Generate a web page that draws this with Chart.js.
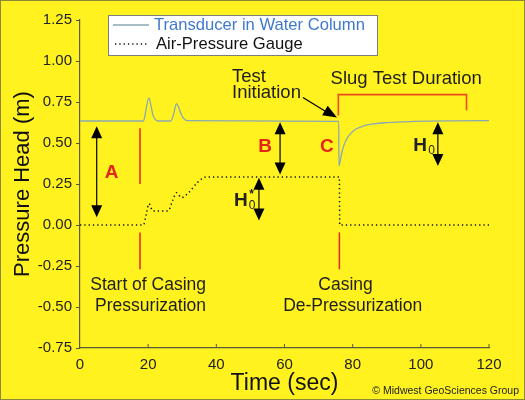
<!DOCTYPE html>
<html>
<head>
<meta charset="utf-8">
<script src="https://cdn.jsdelivr.net/npm/chart.js@4/dist/chart.umd.min.js"></script>
<style>
  html, body { margin: 0; padding: 0; background: #fff21f; }
  #wrap { position: relative; width: 525px; height: 400px; box-sizing: border-box; border: 1px solid #8c8a3a; }
</style>
</head>
<body>
<div id="wrap"><canvas id="chart" width="523" height="398"></canvas></div>
<script>
// Data

// transducer in water column (m)
var transducerTime = [0, 18.6, 19.0, 19.5, 20.2, 20.9, 21.4, 22.0, 22.8,
	26.6, 27.4, 27.9, 28.3, 28.9, 29.6, 30.4, 31.5,
	75.9, 76.0, 76.7, 77.5, 78.4, 79.5, 81, 83, 86, 90, 95, 102, 110, 120];
var transducerHead = [0.634, 0.634, 0.66, 0.72, 0.775, 0.72, 0.67, 0.645, 0.634,
	0.634, 0.67, 0.715, 0.74, 0.72, 0.68, 0.65, 0.636,
	0.632, 0.36, 0.43, 0.49, 0.53, 0.56, 0.585, 0.603, 0.616, 0.624, 0.629, 0.633, 0.635, 0.637];

// air-pressure gauge (m)
var gaugeTime = [0, 18.6, 19.5, 20.2, 21.4, 25.8, 27.2, 28.3, 29.8, 32, 34.5, 37.1, 76.1, 76.2, 120];
var gaugeHead = [0, 0, 0.07, 0.13, 0.085, 0.085, 0.15, 0.197, 0.167, 0.2, 0.26, 0.293, 0.293, 0, 0];

var xTicks = [0, 20, 40, 60, 80, 100, 120];
var yTicks = [-0.75, -0.5, -0.25, 0, 0.25, 0.5, 0.75, 1.0, 1.25];

function toPoints(xs, ys)
{
	var pts = [];
	for (let i = 0; i < xs.length; i++) {
		pts.push({x: xs[i], y: ys[i]});
	}
	return pts;
}

var FONT = "'Liberation Sans', Arial, sans-serif";
var RED = "#e4261a";
var ORANGE = "#ee4a1c";

// arrow helpers
function arrowHead(ctx, x1, y1, x2, y2, len, wid)
{
	var a = Math.atan2(y2 - y1, x2 - x1);
	ctx.beginPath();
	ctx.moveTo(x2, y2);
	ctx.lineTo(x2 - len * Math.cos(a) + wid / 2 * Math.sin(a), y2 - len * Math.sin(a) - wid / 2 * Math.cos(a));
	ctx.lineTo(x2 - len * Math.cos(a) - wid / 2 * Math.sin(a), y2 - len * Math.sin(a) + wid / 2 * Math.cos(a));
	ctx.closePath();
	ctx.fill();
}
function doubleArrow(ctx, x, yTop, yBot)
{
	ctx.strokeStyle = "#000";
	ctx.fillStyle = "#000";
	ctx.lineWidth = 1.2;
	ctx.beginPath();
	ctx.moveTo(x, yTop + 8);
	ctx.lineTo(x, yBot - 8);
	ctx.stroke();
	arrowHead(ctx, x, yBot, x, yTop, 12, 11);
	arrowHead(ctx, x, yTop, x, yBot, 12, 11);
}
function hLabel(ctx, x, y, star)
{
	ctx.fillStyle = "#222";
	ctx.textAlign = "center";
	ctx.textBaseline = "middle";
	ctx.font = "bold 19px " + FONT;
	ctx.fillText("H", x, y);
	ctx.font = "12px " + FONT;
	ctx.textAlign = "left";
	ctx.fillText("0", x + 8, y + 5);
	if (star) {
		ctx.font = "bold 12px " + FONT;
		ctx.fillText("*", x + 8.5, y - 6);
	}
}

var annotations = {
	id: "annotations",
	afterDatasetsDraw: function(chart) {
		var ctx = chart.ctx;
		var xs = chart.scales.x, ys = chart.scales.y;
		var px = function(t) { return xs.getPixelForValue(t); };
		var py = function(v) { return ys.getPixelForValue(v); };
		ctx.save();

		// inward x ticks
		ctx.strokeStyle = "#5a5a3a";
		ctx.lineWidth = 1;
		for (let i = 1; i < xTicks.length; i++) {
			ctx.beginPath();
			ctx.moveTo(px(xTicks[i]), py(-0.75));
			ctx.lineTo(px(xTicks[i]), py(-0.75) - 4);
			ctx.stroke();
		}

		// red markers
		ctx.strokeStyle = RED;
		ctx.lineWidth = 1.5;
		ctx.beginPath();
		ctx.moveTo(px(17.6), py(0.59)); ctx.lineTo(px(17.6), py(0.25));
		ctx.moveTo(px(17.6), py(-0.046)); ctx.lineTo(px(17.6), py(-0.27));
		ctx.moveTo(px(76.1), py(-0.046)); ctx.lineTo(px(76.1), py(-0.27));
		ctx.stroke();

		// slug test bracket
		ctx.strokeStyle = ORANGE;
		ctx.lineWidth = 1.6;
		ctx.beginPath();
		ctx.moveTo(px(75.8), py(0.668));
		ctx.lineTo(px(75.8), py(0.795));
		ctx.lineTo(px(113.4), py(0.795));
		ctx.lineTo(px(113.4), py(0.70));
		ctx.stroke();

		// double arrows
		doubleArrow(ctx, px(4.9), py(0.602), py(0.048));
		doubleArrow(ctx, px(58.7), py(0.627), py(0.308));
		doubleArrow(ctx, px(52.5), py(0.288), py(0.027));
		doubleArrow(ctx, px(105), py(0.627), py(0.36));

		// test initiation pointer
		ctx.lineWidth = 1.2;
		ctx.beginPath();
		ctx.moveTo(px(65.4), py(0.777));
		ctx.lineTo(px(74), py(0.667));
		ctx.stroke();
		arrowHead(ctx, px(65.4), py(0.777), px(75.4), py(0.655), 14, 11);

		// letters
		ctx.font = "bold 19px " + FONT;
		ctx.fillStyle = RED;
		ctx.textAlign = "center";
		ctx.textBaseline = "middle";
		ctx.fillText("A", px(9.3), py(0.32));
		ctx.fillText("B", px(54.3), py(0.474));
		ctx.fillText("C", px(72.4), py(0.474));

		hLabel(ctx, px(47.2), py(0.15), true);
		hLabel(ctx, px(99.8), py(0.485), false);

		// texts
		ctx.fillStyle = "#1e1e1e";
		ctx.font = "18.5px " + FONT;
		ctx.textAlign = "left";
		ctx.fillText("Test", px(44.6), py(0.905));
		ctx.fillText("Initiation", px(44.6), py(0.808));
		ctx.textAlign = "center";
		ctx.fillText("Slug Test Duration", px(95.7), py(0.893));
		ctx.font = "17.5px " + FONT;
		ctx.fillText("Start of Casing", px(20), py(-0.369));
		ctx.fillText("Pressurization", px(20.7), py(-0.497));
		ctx.fillText("Casing", px(77.9), py(-0.369));
		ctx.fillText("De-Pressurization", px(80), py(-0.497));

		// legend box
		var lx = 107, ly = 14, lw = 269, lh = 40;
		ctx.fillStyle = "#ffffff";
		ctx.fillRect(lx, ly, lw, lh);
		ctx.strokeStyle = "#7d7d7d";
		ctx.lineWidth = 1;
		ctx.strokeRect(lx + 0.5, ly + 0.5, lw, lh);
		ctx.strokeStyle = "#8aa9b4";
		ctx.lineWidth = 1.3;
		ctx.beginPath();
		ctx.moveTo(112, 24); ctx.lineTo(148, 24);
		ctx.stroke();
		ctx.strokeStyle = "#111";
		ctx.setLineDash([1.3, 3]);
		ctx.lineWidth = 1.5;
		ctx.beginPath();
		ctx.moveTo(114, 43); ctx.lineTo(147, 43);
		ctx.stroke();
		ctx.setLineDash([]);
		ctx.textAlign = "left";
		ctx.font = "16.6px " + FONT;
		ctx.fillStyle = "#3f78d0";
		ctx.fillText("Transducer in Water Column", 153, 24);
		ctx.fillStyle = "#111";
		ctx.fillText("Air-Pressure Gauge", 155, 43);

		// credit
		ctx.font = "10.5px " + FONT;
		ctx.fillStyle = "#222";
		ctx.textAlign = "right";
		ctx.fillText("\u00A9 Midwest GeoSciences Group", 518, 390);

		ctx.restore();
	}
};

window.onload = function(){
	var ctx = document.getElementById("chart").getContext("2d");
	var mychart = new Chart(ctx,
	{
		type: "scatter",
		data: {
			datasets: [{
				label: "Transducer in Water Column",
				data: toPoints(transducerTime, transducerHead),
				showLine: true,
				borderColor: "#8aa9b4",
				borderWidth: 1.3,
				pointRadius: 0,
				cubicInterpolationMode: "monotone"
			}, {
				label: "Air-Pressure Gauge",
				data: toPoints(gaugeTime, gaugeHead),
				showLine: true,
				borderColor: "#111",
				borderWidth: 1.5,
				borderDash: [1.3, 3],
				pointRadius: 0,
				cubicInterpolationMode: "monotone"
			}]
		},
		options: {
			responsive: false,
			animation: false,
			layout: { padding: { top: 19, right: 35, left: 0, bottom: 0 } },
			plugins: {
				legend: { display: false },
				tooltip: { enabled: false }
			},
			scales: {
				x: {
					type: "linear",
					min: 0, max: 120,
					afterBuildTicks: function(scale) { scale.ticks = xTicks.map(v => ({value: v})); },
					grid: { display: false },
					border: { display: true, color: "#5a5a3a", width: 1.2 },
					ticks: { color: "#222", font: { family: FONT, size: 15 }, padding: 0 },
					title: { display: true, text: "Time (sec)", color: "#111", font: { family: FONT, size: 23 }, padding: { top: 0, bottom: 2 } },
					afterFit: function(scale) { scale.height = 51; }
				},
				y: {
					min: -0.75, max: 1.25,
					afterBuildTicks: function(scale) { scale.ticks = yTicks.map(v => ({value: v})); },
					grid: { drawOnChartArea: false, drawTicks: true, tickLength: 4, color: "#5a5a3a" },
					border: { display: true, color: "#5a5a3a", width: 1.2 },
					ticks: { color: "#222", font: { family: FONT, size: 15 }, padding: 4,
						callback: function(v) { return v.toFixed(2); } },
					title: { display: true, text: "Pressure Head (m)", color: "#111", font: { family: FONT, size: 22 }, padding: { top: 9, bottom: 0 } },
					afterFit: function(scale) { scale.width = 79; }
				}
			}
		},
		plugins: [annotations]
	});
};
</script>
</body>
</html>
